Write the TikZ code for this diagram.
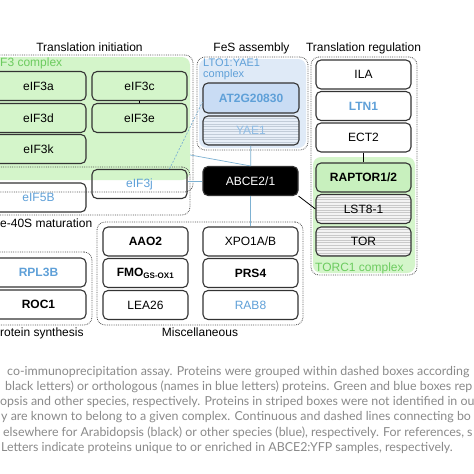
\documentclass[tikz,border=0pt]{standalone}
\usepackage{fontspec}
\setmainfont{Liberation Sans}
\newfontfamily\capfont{Lato}
\definecolor{boxline}{HTML}{333333}
\definecolor{grpline}{HTML}{555555}
\definecolor{lgreen}{HTML}{D4F5CA}
\definecolor{mgreen}{HTML}{C8F0BE}
\definecolor{tgreen}{HTML}{6CCB5F}
\definecolor{tblue}{HTML}{5FA0D8}
\definecolor{lblue}{HTML}{DFEAF7}
\definecolor{mblue}{HTML}{C9DCF4}
\definecolor{stripebg}{HTML}{F3F3F3}
\definecolor{stripecol}{HTML}{C9C9C9}
\definecolor{stripebgb}{HTML}{E8EFF8}
\definecolor{stripecolb}{HTML}{C2CCD8}
\definecolor{capgray}{HTML}{8A8A8A}
\definecolor{lineblue}{HTML}{7DB1D2}
\begin{document}
\begin{tikzpicture}[x=1pt,y=-1pt,
  pbox/.style={draw=boxline, line width=1.1pt, rounded corners=5pt, minimum width=95pt, minimum height=29pt, inner sep=0pt, fill=white, font=\fontsize{12}{14}\selectfont},
  bbox/.style={pbox, font=\fontsize{12}{14}\selectfont\bfseries},
  stripedg/.style={pbox, fill=stripebg, path picture={
      \foreach \k in {1,...,12}{
        \draw[draw=stripecol, line width=0.5pt] ([yshift={-\k*2.6pt}]path picture bounding box.north west) -- ([yshift={-\k*2.6pt}]path picture bounding box.north east);
      }}},
  stripedb/.style={pbox, fill=stripebgb, path picture={
      \foreach \k in {1,...,12}{
        \draw[draw=stripecolb, line width=0.5pt] ([yshift={-\k*2.6pt}]path picture bounding box.north west) -- ([yshift={-\k*2.6pt}]path picture bounding box.north east);
      }}},
  abcebox/.style={pbox, fill=black, text=white},
  region/.style={rounded corners=8pt, inner sep=0pt, draw=none},
  grp/.style={draw=grpline, densely dotted, line width=0.8pt, rounded corners=8pt, inner sep=0pt},
  lab/.style={inner sep=0pt, font=\fontsize{12}{14}\selectfont},
  captxt/.style={inner sep=0pt, anchor=base west, text=capgray, font=\capfont\fontsize{12.4}{14}\selectfont},
  bl/.style={draw=lineblue, line width=0.7pt},
  bld/.style={bl, dash pattern=on 2pt off 1.5pt},
  blk/.style={draw=black, line width=0.8pt}
]
\clip (0,0) rectangle (474,474);
\fill[white] (0,0) rectangle (474,474);

% coloured complex regions
\node[region, fill=lgreen, minimum width=200pt, minimum height=123pt] (eif3cx) at (90,118.5) {};
\node[region, fill=lblue, minimum width=107pt, minimum height=89pt] (ltocx) at (252.5,103.5) {};
\node[region, fill=lgreen, minimum width=102pt, minimum height=116pt] (torcx) at (364,215) {};

% group boxes
\node[grp, minimum width=203pt, minimum height=137pt] (gti) at (91.5,123.5) {};
\node[grp, minimum width=200pt, minimum height=48pt] (gpre) at (90,191) {};
\node[grp, minimum width=111pt, minimum height=93pt] (gfes) at (252.5,103.5) {};
\node[grp, minimum width=106pt, minimum height=218pt] (gtr) at (364,166) {};
\node[grp, minimum width=102pt, minimum height=73pt] (gps) at (41,288.5) {};
\node[grp, minimum width=206pt, minimum height=103pt] (gmis) at (200,273.5) {};

% group labels
\node[lab, anchor=base] (lti) at (89.5,51.5) {Translation initiation};
\node[lab, anchor=base] (lfes) at (251.5,51.5) {FeS assembly};
\node[lab, anchor=base] (ltr) at (363.5,51.5) {Translation regulation};
\node[lab, anchor=base west, text=tgreen] (leif) at (0,66.5) {F3 complex};
\node[lab, anchor=base west, text=tblue, font=\fontsize{11}{12}\selectfont] (llto1) at (203,66) {LTO1:YAE1};
\node[lab, anchor=base west, text=tblue, font=\fontsize{11}{12}\selectfont] (llto2) at (203,77.5) {complex};
\node[lab, anchor=base west, text=tgreen] (ltorc) at (315,271) {TORC1 complex};
\node[lab, anchor=base west] (lpre) at (0,227) {e-40S maturation};
\node[lab, anchor=base west] (lps) at (0,336) {rotein synthesis};
\node[lab, anchor=base] (lmis) at (200,336) {Miscellaneous};

% protein boxes
\node[pbox, fill=lgreen] (eif3a) at (38.5,86) {eIF3a};
\node[pbox, fill=lgreen] (eif3c) at (139.5,86) {eIF3c};
\node[pbox, fill=lgreen] (eif3d) at (38.5,118) {eIF3d};
\node[pbox, fill=lgreen] (eif3e) at (139.5,118) {eIF3e};
\node[pbox, fill=lgreen] (eif3k) at (38.5,149) {eIF3k};
\node[pbox, fill=none, text=tblue] (eif3j) at (139.5,184) {eIF3j};
\node[pbox, fill=none, text=tblue] (eif5b) at (38.5,197.5) {eIF5B};
\node[bbox, fill=mblue, text=tblue, minimum width=96pt, minimum height=30pt] (at2g) at (251,98) {AT2G20830};
\node[stripedb, text=tblue!70, minimum width=96pt] (yae1) at (251,130.5) {YAE1};
\node[abcebox] (abce) at (250.5,181) {ABCE2/1};
\node[pbox] (ila) at (363.5,74.5) {ILA};
\node[bbox, text=tblue] (ltn1) at (363.5,106) {LTN1};
\node[pbox] (ect2) at (363.5,137.5) {ECT2};
\node[bbox, fill=mgreen] (raptor) at (363.5,177.5) {RAPTOR1/2};
\node[stripedg] (lst8) at (363.5,209) {LST8-1};
\node[stripedg] (tor) at (363.5,241.5) {TOR};
\node[bbox, minimum width=85pt] (aao2) at (145.5,241.5) {AAO2};
\node[bbox, minimum width=85pt] (fmo) at (145.5,273) {FMO\textsubscript{GS-OX1}};
\node[pbox, minimum width=85pt] (lea26) at (145.5,305) {LEA26};
\node[pbox] (xpo) at (250.5,241.5) {XPO1A/B};
\node[bbox] (prs4) at (250.5,273) {PRS4};
\node[pbox, text=tblue] (rab8) at (250.5,305) {RAB8};
\node[bbox, text=tblue] (rpl3b) at (38.5,272.5) {RPL3B};
\node[bbox] (roc1) at (38.5,304.5) {ROC1};

% connectors
\draw[blk] (eif3c) -- (eif3e);
\draw[blk] (ect2) -- (raptor);
\draw[blk] (abce.south east) -- (lst8.west);
\draw[bl] (abce.west) -- (abce.west -| eif3j.east);
\draw[bl] (yae1) -- (abce);
\draw[bl] (abce) -- (xpo);
\draw[bl] (eif3cx.-20) -- (abce.north);
\draw[bld] ([xshift=30pt]eif3j.north) -- ([yshift=-4pt]at2g.west);

% caption
\node[captxt] (c1) at (7,375) {co-immunoprecipitation assay. Proteins were grouped within dashed boxes according};
\node[captxt] (c2) at (5,390.3) {black letters) or orthologous (names in blue letters) proteins. Green and blue boxes rep};
\node[captxt] (c3) at (0,405.6) {opsis and other species, respectively. Proteins in striped boxes were not identified in ou};
\node[captxt] (c4) at (1,420.9) {y are known to belong to a given complex. Continuous and dashed lines connecting bo};
\node[captxt] (c5) at (3,436.2) {elsewhere for Arabidopsis (black) or other species (blue), respectively. For references, s};
\node[captxt] (c6) at (1,451.5) {Letters indicate proteins unique to or enriched in ABCE2:YFP samples, respectively.};
\end{tikzpicture}
\end{document}
